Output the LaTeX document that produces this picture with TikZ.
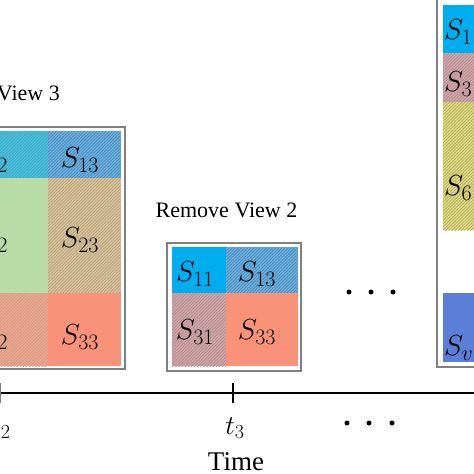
\RequirePackage{fix-cm}
\documentclass[tikz,border=0pt]{standalone}
\usepackage{fontspec}
\setmainfont{Liberation Serif}
\DeclareMathSizes{29}{29}{22}{16}
\DeclareMathSizes{27}{27}{20}{15}
\usetikzlibrary{patterns.meta}
\definecolor{framegray}{HTML}{808080}
\definecolor{cyanS}{HTML}{00AEEF}
\definecolor{cyanB}{HTML}{3EC6E6}
\definecolor{cyanL}{HTML}{4FA3BA}
\definecolor{blueB}{HTML}{6FB2DE}
\definecolor{blueL}{HTML}{4A8CC0}
\definecolor{tanB}{HTML}{D8C39C}
\definecolor{tanL}{HTML}{B9A67E}
\definecolor{salB}{HTML}{F0A88A}
\definecolor{salL}{HTML}{D49A8E}
\definecolor{rosyB}{HTML}{D2A9A8}
\definecolor{rosyL}{HTML}{B48C94}
\definecolor{yelB}{HTML}{E2DC84}
\definecolor{yelL}{HTML}{B4AE62}
\definecolor{greenS}{HTML}{B8DCA8}
\definecolor{salmonS}{HTML}{F8937A}
\definecolor{purpS}{HTML}{5B7FD6}
\begin{document}
\begin{tikzpicture}[x=1pt,y=-1pt,
  frame/.style={draw=framegray,line width=1.3pt},
  hatch/.style 2 args={fill=#1,postaction={pattern={Lines[angle=45,distance=2.2pt,line width=0.8pt]},pattern color=#2}},
  lab/.style={font=\fontsize{29}{32}\selectfont,inner sep=0pt},
  title/.style={font=\fontsize{22}{26}\selectfont,inner sep=0pt},
  tlab/.style={font=\fontsize{27}{30}\selectfont,inner sep=0pt},
  dot/.style={circle,fill=black,inner sep=0pt,minimum size=5pt}]
\useasboundingbox (0,0) rectangle (474,474);
\clip (0,0) rectangle (474,474);
% left box
\draw[frame] (-10,127) rectangle (125,369);
\path[hatch={cyanB}{cyanL}] (-30,131) rectangle (48,178);
\path[hatch={blueB}{blueL}] (48,131) rectangle (121,178);
\fill[greenS] (-30,178) rectangle (48,293);
\path[hatch={tanB}{tanL}] (48,178) rectangle (121,293);
\path[hatch={salB}{salL}] (-30,293) rectangle (48,366);
\fill[salmonS] (48,293) rectangle (121,366);
\node[lab] (s12) at (-11,160) {$S_{12}$};
\node[lab] (s13a) at (80,160) {$S_{13}$};
\node[lab] (s22) at (-11,240) {$S_{22}$};
\node[lab] (s23) at (80,240) {$S_{23}$};
\node[lab] (s32) at (-11,337) {$S_{32}$};
\node[lab] (s33a) at (80,337) {$S_{33}$};
\node[title,anchor=base east] (rv3) at (60,100) {Remove View 3};
% middle box
\draw[frame] (167,243) rectangle (301,371);
\fill[cyanS] (172,247) rectangle (226,293);
\path[hatch={blueB}{blueL}] (226,247) rectangle (298,293);
\path[hatch={rosyB}{rosyL}] (172,293) rectangle (226,366);
\fill[salmonS] (226,293) rectangle (298,366);
\node[lab] (s11) at (195,274) {$S_{11}$};
\node[lab] (s13b) at (257,274) {$S_{13}$};
\node[lab] (s31) at (195,332) {$S_{31}$};
\node[lab] (s33b) at (257,332) {$S_{33}$};
\node[title,anchor=base] (rv2) at (226.5,217) {Remove View 2};
% right box
\draw[frame] (437,-5) rectangle (490,367);
\fill[cyanS] (443,5) rectangle (480,53);
\path[hatch={rosyB}{rosyL}] (443,53) rectangle (480,102);
\path[hatch={yelB}{yelL}] (443,102) rectangle (480,230);
\fill[purpS] (443,293) rectangle (480,362);
\node[lab,anchor=west] (s1) at (444,32) {$S_1$};
\node[lab,anchor=west] (s3) at (444,84) {$S_3$};
\node[lab,anchor=west] (s6) at (444,188) {$S_6$};
\node[lab,anchor=west] (sv) at (444,348) {$S_v$};
% dots between boxes
\node[dot] (d1) at (349,292) {};
\node[dot] (d2) at (371,292) {};
\node[dot] (d3) at (393,292) {};
% timeline
\coordinate (tl) at (0,393);
\coordinate (tr) at (474,393);
\draw[line width=1.2pt] (tl) -- (tr);
\coordinate (k2a) at (0.7,383);
\coordinate (k2b) at (0.7,403);
\coordinate (k3a) at (233,383);
\coordinate (k3b) at (233,403);
\draw[line width=1.3pt,framegray] (k2a) -- (k2b);
\draw[line width=1.2pt] (k3a) -- (k3b);
\node[tlab] (t2) at (1,428) {$t_2$};
\node[tlab] (t3) at (235,428) {$t_3$};
\node[dot] (e1) at (347,423) {};
\node[dot] (e2) at (369,423) {};
\node[dot] (e3) at (392,423) {};
\node[font=\fontsize{27}{30}\selectfont,inner sep=0pt,anchor=base] (time) at (236,470) {Time};
\end{tikzpicture}
\end{document}
